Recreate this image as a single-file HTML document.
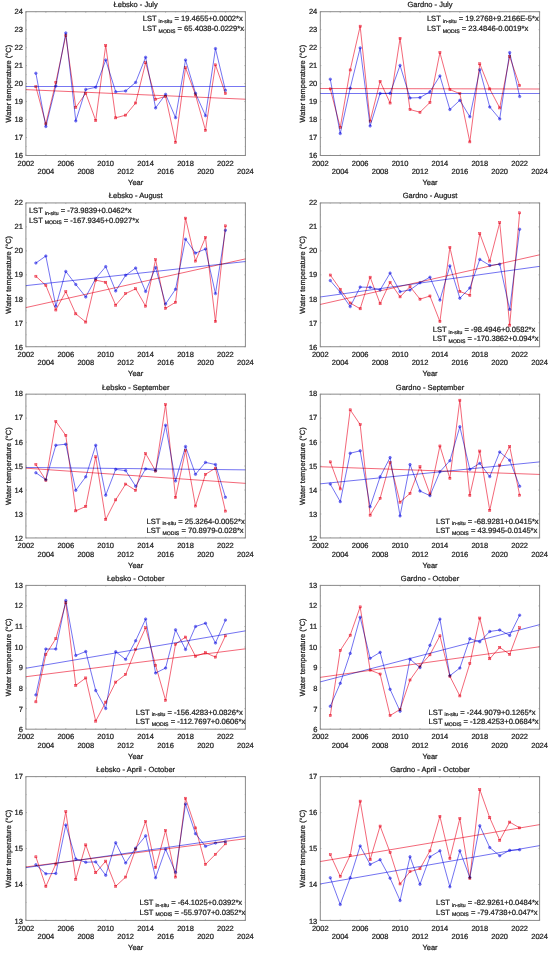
<!DOCTYPE html>
<html lang="en">
<head>
<meta charset="utf-8">
<title>Water temperature trends - Łebsko and Gardno</title>
<style>
html,body{margin:0;padding:0;background:#fff;}
body{width:550px;height:953px;overflow:hidden;font-family:"Liberation Sans",sans-serif;}
svg{display:block;}
svg text{stroke:#222;stroke-width:0.24px;text-rendering:geometricPrecision;}
</style>
</head>
<body>
<svg width="550" height="953" viewBox="0 0 550 953" font-family="'Liberation Sans', sans-serif" font-size="7.5" fill="#222">
<rect width="550" height="953" fill="#fff"/>
<g>
<text x="135.7" y="7.1" text-anchor="middle">Łebsko - July</text>
<rect x="25.90" y="11.70" width="219.50" height="143.80" fill="none" stroke="#8a8a8a" stroke-width="1.0"/>
<path d="M25.90 155.50v-1.1M25.90 11.70v1.1M45.85 155.50v-1.1M45.85 11.70v1.1M65.81 155.50v-1.1M65.81 11.70v1.1M85.76 155.50v-1.1M85.76 11.70v1.1M105.72 155.50v-1.1M105.72 11.70v1.1M125.67 155.50v-1.1M125.67 11.70v1.1M145.63 155.50v-1.1M145.63 11.70v1.1M165.58 155.50v-1.1M165.58 11.70v1.1M185.54 155.50v-1.1M185.54 11.70v1.1M205.49 155.50v-1.1M205.49 11.70v1.1M225.45 155.50v-1.1M225.45 11.70v1.1M245.40 155.50v-1.1M245.40 11.70v1.1M35.88 155.50v-0.6M35.88 11.70v0.6M55.83 155.50v-0.6M55.83 11.70v0.6M75.79 155.50v-0.6M75.79 11.70v0.6M95.74 155.50v-0.6M95.74 11.70v0.6M115.70 155.50v-0.6M115.70 11.70v0.6M135.65 155.50v-0.6M135.65 11.70v0.6M155.60 155.50v-0.6M155.60 11.70v0.6M175.56 155.50v-0.6M175.56 11.70v0.6M195.51 155.50v-0.6M195.51 11.70v0.6M215.47 155.50v-0.6M215.47 11.70v0.6M235.42 155.50v-0.6M235.42 11.70v0.6M25.90 155.50h1.1M245.40 155.50h-1.1M25.90 137.53h1.1M245.40 137.53h-1.1M25.90 119.55h1.1M245.40 119.55h-1.1M25.90 101.58h1.1M245.40 101.58h-1.1M25.90 83.60h1.1M245.40 83.60h-1.1M25.90 65.62h1.1M245.40 65.62h-1.1M25.90 47.65h1.1M245.40 47.65h-1.1M25.90 29.68h1.1M245.40 29.68h-1.1M25.90 11.70h1.1M245.40 11.70h-1.1M25.90 146.51h0.6M245.40 146.51h-0.6M25.90 128.54h0.6M245.40 128.54h-0.6M25.90 110.56h0.6M245.40 110.56h-0.6M25.90 92.59h0.6M245.40 92.59h-0.6M25.90 74.61h0.6M245.40 74.61h-0.6M25.90 56.64h0.6M245.40 56.64h-0.6M25.90 38.66h0.6M245.40 38.66h-0.6M25.90 20.69h0.6M245.40 20.69h-0.6" stroke="#8a8a8a" stroke-width="0.6" fill="none"/>
<text x="22.9" y="158.4" text-anchor="end">16</text>
<text x="22.9" y="140.4" text-anchor="end">17</text>
<text x="22.9" y="122.3" text-anchor="end">18</text>
<text x="22.9" y="104.2" text-anchor="end">19</text>
<text x="22.9" y="86.2" text-anchor="end">20</text>
<text x="22.9" y="68.1" text-anchor="end">21</text>
<text x="22.9" y="50.0" text-anchor="end">22</text>
<text x="22.9" y="31.9" text-anchor="end">23</text>
<text x="22.9" y="13.8" text-anchor="end">24</text>
<text x="25.9" y="165.6" text-anchor="middle">2002</text>
<text x="45.9" y="174.2" text-anchor="middle">2004</text>
<text x="65.8" y="165.6" text-anchor="middle">2006</text>
<text x="85.8" y="174.2" text-anchor="middle">2008</text>
<text x="105.7" y="165.6" text-anchor="middle">2010</text>
<text x="125.7" y="174.2" text-anchor="middle">2012</text>
<text x="145.6" y="165.6" text-anchor="middle">2014</text>
<text x="165.6" y="174.2" text-anchor="middle">2016</text>
<text x="185.5" y="165.6" text-anchor="middle">2018</text>
<text x="205.5" y="174.2" text-anchor="middle">2020</text>
<text x="225.4" y="165.6" text-anchor="middle">2022</text>
<text x="245.4" y="174.2" text-anchor="middle">2024</text>
<text x="135.7" y="185.2" text-anchor="middle">Year</text>
<text transform="translate(10.5 83.6) rotate(-90)" text-anchor="middle">Water temperature (°C)</text>
<line x1="25.90" y1="89.65" x2="245.40" y2="99.23" stroke="#ee2c44" stroke-width="0.72" style="mix-blend-mode:multiply"/>
<line x1="25.90" y1="86.48" x2="245.40" y2="86.48" stroke="#3c3cec" stroke-width="0.72" style="mix-blend-mode:multiply"/>
<polyline points="35.88,86.75 45.85,123.81 55.83,82.42 65.81,35.60 75.79,107.36 85.76,93.26 95.74,120.55 105.72,45.36 115.70,117.84 125.67,115.13 135.65,103.02 145.63,62.71 155.60,99.23 165.58,96.51 175.56,142.24 185.54,67.77 195.51,94.89 205.49,130.31 215.47,64.88 225.45,93.62" fill="none" stroke="#ee2c44" stroke-width="0.72" stroke-linejoin="round" style="mix-blend-mode:multiply"/>
<g fill="#f58a96" stroke="#ee2c44" stroke-width="0.5" style="mix-blend-mode:multiply"><rect x="34.83" y="85.70" width="2.1" height="2.1"/><rect x="44.80" y="122.76" width="2.1" height="2.1"/><rect x="54.78" y="81.37" width="2.1" height="2.1"/><rect x="64.76" y="34.55" width="2.1" height="2.1"/><rect x="74.74" y="106.31" width="2.1" height="2.1"/><rect x="84.71" y="92.21" width="2.1" height="2.1"/><rect x="94.69" y="119.50" width="2.1" height="2.1"/><rect x="104.67" y="44.31" width="2.1" height="2.1"/><rect x="114.65" y="116.79" width="2.1" height="2.1"/><rect x="124.62" y="114.08" width="2.1" height="2.1"/><rect x="134.60" y="101.97" width="2.1" height="2.1"/><rect x="144.58" y="61.66" width="2.1" height="2.1"/><rect x="154.55" y="98.18" width="2.1" height="2.1"/><rect x="164.53" y="95.46" width="2.1" height="2.1"/><rect x="174.51" y="141.19" width="2.1" height="2.1"/><rect x="184.49" y="66.72" width="2.1" height="2.1"/><rect x="194.46" y="93.84" width="2.1" height="2.1"/><rect x="204.44" y="129.26" width="2.1" height="2.1"/><rect x="214.42" y="63.83" width="2.1" height="2.1"/><rect x="224.40" y="92.57" width="2.1" height="2.1"/></g>
<polyline points="35.88,73.20 45.85,126.52 55.83,86.03 65.81,32.89 75.79,120.92 85.76,89.46 95.74,87.30 105.72,60.00 115.70,91.81 125.67,90.91 135.65,82.42 145.63,57.29 155.60,107.90 165.58,94.35 175.56,117.66 185.54,60.00 195.51,93.26 205.49,115.67 215.47,48.62 225.45,90.37" fill="none" stroke="#3c3cec" stroke-width="0.72" stroke-linejoin="round" style="mix-blend-mode:multiply"/>
<g fill="#8a8af0" stroke="#3c3cec" stroke-width="0.5" style="mix-blend-mode:multiply"><circle cx="35.88" cy="73.20" r="1.25"/><circle cx="45.85" cy="126.52" r="1.25"/><circle cx="55.83" cy="86.03" r="1.25"/><circle cx="65.81" cy="32.89" r="1.25"/><circle cx="75.79" cy="120.92" r="1.25"/><circle cx="85.76" cy="89.46" r="1.25"/><circle cx="95.74" cy="87.30" r="1.25"/><circle cx="105.72" cy="60.00" r="1.25"/><circle cx="115.70" cy="91.81" r="1.25"/><circle cx="125.67" cy="90.91" r="1.25"/><circle cx="135.65" cy="82.42" r="1.25"/><circle cx="145.63" cy="57.29" r="1.25"/><circle cx="155.60" cy="107.90" r="1.25"/><circle cx="165.58" cy="94.35" r="1.25"/><circle cx="175.56" cy="117.66" r="1.25"/><circle cx="185.54" cy="60.00" r="1.25"/><circle cx="195.51" cy="93.26" r="1.25"/><circle cx="205.49" cy="115.67" r="1.25"/><circle cx="215.47" cy="48.62" r="1.25"/><circle cx="225.45" cy="90.37" r="1.25"/></g>
<text x="142.7" y="21.4" font-size="7.6">LST <tspan font-size="5.15" dy="1.6">in-situ</tspan><tspan dy="-1.6"> = 19.4655+0.0002*x</tspan></text>
<text x="142.7" y="30.9" font-size="7.6">LST <tspan font-size="5.15" dy="1.6">MODIS</tspan><tspan dy="-1.6"> = 65.4038-0.0229*x</tspan></text>
</g>
<g>
<text x="430.0" y="7.1" text-anchor="middle">Gardno - July</text>
<rect x="320.30" y="11.70" width="219.30" height="143.80" fill="none" stroke="#8a8a8a" stroke-width="1.0"/>
<path d="M320.30 155.50v-1.1M320.30 11.70v1.1M340.24 155.50v-1.1M340.24 11.70v1.1M360.17 155.50v-1.1M360.17 11.70v1.1M380.11 155.50v-1.1M380.11 11.70v1.1M400.05 155.50v-1.1M400.05 11.70v1.1M419.98 155.50v-1.1M419.98 11.70v1.1M439.92 155.50v-1.1M439.92 11.70v1.1M459.85 155.50v-1.1M459.85 11.70v1.1M479.79 155.50v-1.1M479.79 11.70v1.1M499.73 155.50v-1.1M499.73 11.70v1.1M519.66 155.50v-1.1M519.66 11.70v1.1M539.60 155.50v-1.1M539.60 11.70v1.1M330.27 155.50v-0.6M330.27 11.70v0.6M350.20 155.50v-0.6M350.20 11.70v0.6M370.14 155.50v-0.6M370.14 11.70v0.6M390.08 155.50v-0.6M390.08 11.70v0.6M410.01 155.50v-0.6M410.01 11.70v0.6M429.95 155.50v-0.6M429.95 11.70v0.6M449.89 155.50v-0.6M449.89 11.70v0.6M469.82 155.50v-0.6M469.82 11.70v0.6M489.76 155.50v-0.6M489.76 11.70v0.6M509.70 155.50v-0.6M509.70 11.70v0.6M529.63 155.50v-0.6M529.63 11.70v0.6M320.30 155.50h1.1M539.60 155.50h-1.1M320.30 137.53h1.1M539.60 137.53h-1.1M320.30 119.55h1.1M539.60 119.55h-1.1M320.30 101.58h1.1M539.60 101.58h-1.1M320.30 83.60h1.1M539.60 83.60h-1.1M320.30 65.62h1.1M539.60 65.62h-1.1M320.30 47.65h1.1M539.60 47.65h-1.1M320.30 29.68h1.1M539.60 29.68h-1.1M320.30 11.70h1.1M539.60 11.70h-1.1M320.30 146.51h0.6M539.60 146.51h-0.6M320.30 128.54h0.6M539.60 128.54h-0.6M320.30 110.56h0.6M539.60 110.56h-0.6M320.30 92.59h0.6M539.60 92.59h-0.6M320.30 74.61h0.6M539.60 74.61h-0.6M320.30 56.64h0.6M539.60 56.64h-0.6M320.30 38.66h0.6M539.60 38.66h-0.6M320.30 20.69h0.6M539.60 20.69h-0.6" stroke="#8a8a8a" stroke-width="0.6" fill="none"/>
<text x="317.3" y="158.4" text-anchor="end">16</text>
<text x="317.3" y="140.4" text-anchor="end">17</text>
<text x="317.3" y="122.3" text-anchor="end">18</text>
<text x="317.3" y="104.2" text-anchor="end">19</text>
<text x="317.3" y="86.2" text-anchor="end">20</text>
<text x="317.3" y="68.1" text-anchor="end">21</text>
<text x="317.3" y="50.0" text-anchor="end">22</text>
<text x="317.3" y="31.9" text-anchor="end">23</text>
<text x="317.3" y="13.8" text-anchor="end">24</text>
<text x="320.3" y="165.6" text-anchor="middle">2002</text>
<text x="340.2" y="174.2" text-anchor="middle">2004</text>
<text x="360.2" y="165.6" text-anchor="middle">2006</text>
<text x="380.1" y="174.2" text-anchor="middle">2008</text>
<text x="400.0" y="165.6" text-anchor="middle">2010</text>
<text x="420.0" y="174.2" text-anchor="middle">2012</text>
<text x="439.9" y="165.6" text-anchor="middle">2014</text>
<text x="459.9" y="174.2" text-anchor="middle">2016</text>
<text x="479.8" y="165.6" text-anchor="middle">2018</text>
<text x="499.7" y="174.2" text-anchor="middle">2020</text>
<text x="519.7" y="165.6" text-anchor="middle">2022</text>
<text x="539.6" y="174.2" text-anchor="middle">2024</text>
<text x="430.0" y="185.2" text-anchor="middle">Year</text>
<text transform="translate(304.9 83.6) rotate(-90)" text-anchor="middle">Water temperature (°C)</text>
<line x1="320.30" y1="88.47" x2="539.60" y2="89.01" stroke="#ee2c44" stroke-width="0.72" style="mix-blend-mode:multiply"/>
<line x1="320.30" y1="93.50" x2="539.60" y2="93.46" stroke="#3c3cec" stroke-width="0.72" style="mix-blend-mode:multiply"/>
<polyline points="330.27,88.92 340.24,127.42 350.20,69.94 360.17,26.20 370.14,121.10 380.11,81.33 390.08,103.02 400.05,38.31 410.01,109.53 419.98,112.24 429.95,102.48 439.92,52.59 449.89,89.65 459.85,93.62 469.82,141.88 479.79,63.80 489.76,88.92 499.73,107.90 509.70,56.57 519.66,85.67" fill="none" stroke="#ee2c44" stroke-width="0.72" stroke-linejoin="round" style="mix-blend-mode:multiply"/>
<g fill="#f58a96" stroke="#ee2c44" stroke-width="0.5" style="mix-blend-mode:multiply"><rect x="329.22" y="87.87" width="2.1" height="2.1"/><rect x="339.19" y="126.37" width="2.1" height="2.1"/><rect x="349.15" y="68.89" width="2.1" height="2.1"/><rect x="359.12" y="25.15" width="2.1" height="2.1"/><rect x="369.09" y="120.05" width="2.1" height="2.1"/><rect x="379.06" y="80.28" width="2.1" height="2.1"/><rect x="389.03" y="101.97" width="2.1" height="2.1"/><rect x="399.00" y="37.26" width="2.1" height="2.1"/><rect x="408.96" y="108.48" width="2.1" height="2.1"/><rect x="418.93" y="111.19" width="2.1" height="2.1"/><rect x="428.90" y="101.43" width="2.1" height="2.1"/><rect x="438.87" y="51.54" width="2.1" height="2.1"/><rect x="448.84" y="88.60" width="2.1" height="2.1"/><rect x="458.80" y="92.57" width="2.1" height="2.1"/><rect x="468.77" y="140.83" width="2.1" height="2.1"/><rect x="478.74" y="62.75" width="2.1" height="2.1"/><rect x="488.71" y="87.87" width="2.1" height="2.1"/><rect x="498.68" y="106.85" width="2.1" height="2.1"/><rect x="508.65" y="55.52" width="2.1" height="2.1"/><rect x="518.61" y="84.62" width="2.1" height="2.1"/></g>
<polyline points="330.27,79.16 340.24,133.57 350.20,88.20 360.17,47.89 370.14,125.98 380.11,93.44 390.08,93.26 400.05,65.42 410.01,97.96 419.98,97.60 429.95,91.81 439.92,75.91 449.89,109.53 459.85,100.31 469.82,116.76 479.79,69.76 489.76,107.00 499.73,118.93 509.70,52.59 519.66,96.51" fill="none" stroke="#3c3cec" stroke-width="0.72" stroke-linejoin="round" style="mix-blend-mode:multiply"/>
<g fill="#8a8af0" stroke="#3c3cec" stroke-width="0.5" style="mix-blend-mode:multiply"><circle cx="330.27" cy="79.16" r="1.25"/><circle cx="340.24" cy="133.57" r="1.25"/><circle cx="350.20" cy="88.20" r="1.25"/><circle cx="360.17" cy="47.89" r="1.25"/><circle cx="370.14" cy="125.98" r="1.25"/><circle cx="380.11" cy="93.44" r="1.25"/><circle cx="390.08" cy="93.26" r="1.25"/><circle cx="400.05" cy="65.42" r="1.25"/><circle cx="410.01" cy="97.96" r="1.25"/><circle cx="419.98" cy="97.60" r="1.25"/><circle cx="429.95" cy="91.81" r="1.25"/><circle cx="439.92" cy="75.91" r="1.25"/><circle cx="449.89" cy="109.53" r="1.25"/><circle cx="459.85" cy="100.31" r="1.25"/><circle cx="469.82" cy="116.76" r="1.25"/><circle cx="479.79" cy="69.76" r="1.25"/><circle cx="489.76" cy="107.00" r="1.25"/><circle cx="499.73" cy="118.93" r="1.25"/><circle cx="509.70" cy="52.59" r="1.25"/><circle cx="519.66" cy="96.51" r="1.25"/></g>
<text x="426.9" y="21.4" font-size="7.6">LST <tspan font-size="5.15" dy="1.6">in-situ</tspan><tspan dy="-1.6"> = 19.2768+9.2166E-5*x</tspan></text>
<text x="426.9" y="30.9" font-size="7.6">LST <tspan font-size="5.15" dy="1.6">MODIS</tspan><tspan dy="-1.6"> = 23.4846-0.0019*x</tspan></text>
</g>
<g>
<text x="135.7" y="198.3" text-anchor="middle">Łebsko - August</text>
<rect x="25.90" y="202.93" width="219.50" height="143.80" fill="none" stroke="#8a8a8a" stroke-width="1.0"/>
<path d="M25.90 346.73v-1.1M25.90 202.93v1.1M45.85 346.73v-1.1M45.85 202.93v1.1M65.81 346.73v-1.1M65.81 202.93v1.1M85.76 346.73v-1.1M85.76 202.93v1.1M105.72 346.73v-1.1M105.72 202.93v1.1M125.67 346.73v-1.1M125.67 202.93v1.1M145.63 346.73v-1.1M145.63 202.93v1.1M165.58 346.73v-1.1M165.58 202.93v1.1M185.54 346.73v-1.1M185.54 202.93v1.1M205.49 346.73v-1.1M205.49 202.93v1.1M225.45 346.73v-1.1M225.45 202.93v1.1M245.40 346.73v-1.1M245.40 202.93v1.1M35.88 346.73v-0.6M35.88 202.93v0.6M55.83 346.73v-0.6M55.83 202.93v0.6M75.79 346.73v-0.6M75.79 202.93v0.6M95.74 346.73v-0.6M95.74 202.93v0.6M115.70 346.73v-0.6M115.70 202.93v0.6M135.65 346.73v-0.6M135.65 202.93v0.6M155.60 346.73v-0.6M155.60 202.93v0.6M175.56 346.73v-0.6M175.56 202.93v0.6M195.51 346.73v-0.6M195.51 202.93v0.6M215.47 346.73v-0.6M215.47 202.93v0.6M235.42 346.73v-0.6M235.42 202.93v0.6M25.90 346.73h1.1M245.40 346.73h-1.1M25.90 322.76h1.1M245.40 322.76h-1.1M25.90 298.80h1.1M245.40 298.80h-1.1M25.90 274.83h1.1M245.40 274.83h-1.1M25.90 250.86h1.1M245.40 250.86h-1.1M25.90 226.90h1.1M245.40 226.90h-1.1M25.90 202.93h1.1M245.40 202.93h-1.1M25.90 334.75h0.6M245.40 334.75h-0.6M25.90 310.78h0.6M245.40 310.78h-0.6M25.90 286.81h0.6M245.40 286.81h-0.6M25.90 262.85h0.6M245.40 262.85h-0.6M25.90 238.88h0.6M245.40 238.88h-0.6M25.90 214.91h0.6M245.40 214.91h-0.6" stroke="#8a8a8a" stroke-width="0.6" fill="none"/>
<text x="22.9" y="349.8" text-anchor="end">16</text>
<text x="22.9" y="325.6" text-anchor="end">17</text>
<text x="22.9" y="301.5" text-anchor="end">18</text>
<text x="22.9" y="277.4" text-anchor="end">19</text>
<text x="22.9" y="253.3" text-anchor="end">20</text>
<text x="22.9" y="229.2" text-anchor="end">21</text>
<text x="22.9" y="205.2" text-anchor="end">22</text>
<text x="25.9" y="356.8" text-anchor="middle">2002</text>
<text x="45.9" y="365.4" text-anchor="middle">2004</text>
<text x="65.8" y="356.8" text-anchor="middle">2006</text>
<text x="85.8" y="365.4" text-anchor="middle">2008</text>
<text x="105.7" y="356.8" text-anchor="middle">2010</text>
<text x="125.7" y="365.4" text-anchor="middle">2012</text>
<text x="145.6" y="356.8" text-anchor="middle">2014</text>
<text x="165.6" y="365.4" text-anchor="middle">2016</text>
<text x="185.5" y="356.8" text-anchor="middle">2018</text>
<text x="205.5" y="365.4" text-anchor="middle">2020</text>
<text x="225.4" y="356.8" text-anchor="middle">2022</text>
<text x="245.4" y="365.4" text-anchor="middle">2024</text>
<text x="135.7" y="376.4" text-anchor="middle">Year</text>
<text transform="translate(10.5 274.8) rotate(-90)" text-anchor="middle">Water temperature (°C)</text>
<line x1="25.90" y1="307.58" x2="245.40" y2="258.89" stroke="#ee2c44" stroke-width="0.72" style="mix-blend-mode:multiply"/>
<line x1="25.90" y1="285.64" x2="245.40" y2="261.54" stroke="#3c3cec" stroke-width="0.72" style="mix-blend-mode:multiply"/>
<polyline points="35.88,276.25 45.85,285.40 55.83,309.99 65.81,291.67 75.79,313.84 85.76,322.04 95.74,280.10 105.72,282.27 115.70,305.17 125.67,293.60 135.65,288.78 145.63,306.13 155.60,259.62 165.58,308.30 175.56,302.27 185.54,218.16 195.51,261.06 205.49,237.44 215.47,321.55 225.45,225.88" fill="none" stroke="#ee2c44" stroke-width="0.72" stroke-linejoin="round" style="mix-blend-mode:multiply"/>
<g fill="#f58a96" stroke="#ee2c44" stroke-width="0.5" style="mix-blend-mode:multiply"><rect x="34.83" y="275.20" width="2.1" height="2.1"/><rect x="44.80" y="284.35" width="2.1" height="2.1"/><rect x="54.78" y="308.94" width="2.1" height="2.1"/><rect x="64.76" y="290.62" width="2.1" height="2.1"/><rect x="74.74" y="312.79" width="2.1" height="2.1"/><rect x="84.71" y="320.99" width="2.1" height="2.1"/><rect x="94.69" y="279.05" width="2.1" height="2.1"/><rect x="104.67" y="281.22" width="2.1" height="2.1"/><rect x="114.65" y="304.12" width="2.1" height="2.1"/><rect x="124.62" y="292.55" width="2.1" height="2.1"/><rect x="134.60" y="287.73" width="2.1" height="2.1"/><rect x="144.58" y="305.08" width="2.1" height="2.1"/><rect x="154.55" y="258.57" width="2.1" height="2.1"/><rect x="164.53" y="307.25" width="2.1" height="2.1"/><rect x="174.51" y="301.22" width="2.1" height="2.1"/><rect x="184.49" y="217.11" width="2.1" height="2.1"/><rect x="194.46" y="260.01" width="2.1" height="2.1"/><rect x="204.44" y="236.39" width="2.1" height="2.1"/><rect x="214.42" y="320.50" width="2.1" height="2.1"/><rect x="224.40" y="224.83" width="2.1" height="2.1"/></g>
<polyline points="35.88,262.99 45.85,256.00 55.83,306.13 65.81,271.43 75.79,284.44 85.76,296.97 95.74,278.41 105.72,266.61 115.70,290.95 125.67,275.28 135.65,268.05 145.63,291.43 155.60,267.57 165.58,303.96 175.56,289.26 185.54,239.13 195.51,253.11 205.49,249.01 215.47,293.60 225.45,230.21" fill="none" stroke="#3c3cec" stroke-width="0.72" stroke-linejoin="round" style="mix-blend-mode:multiply"/>
<g fill="#8a8af0" stroke="#3c3cec" stroke-width="0.5" style="mix-blend-mode:multiply"><circle cx="35.88" cy="262.99" r="1.25"/><circle cx="45.85" cy="256.00" r="1.25"/><circle cx="55.83" cy="306.13" r="1.25"/><circle cx="65.81" cy="271.43" r="1.25"/><circle cx="75.79" cy="284.44" r="1.25"/><circle cx="85.76" cy="296.97" r="1.25"/><circle cx="95.74" cy="278.41" r="1.25"/><circle cx="105.72" cy="266.61" r="1.25"/><circle cx="115.70" cy="290.95" r="1.25"/><circle cx="125.67" cy="275.28" r="1.25"/><circle cx="135.65" cy="268.05" r="1.25"/><circle cx="145.63" cy="291.43" r="1.25"/><circle cx="155.60" cy="267.57" r="1.25"/><circle cx="165.58" cy="303.96" r="1.25"/><circle cx="175.56" cy="289.26" r="1.25"/><circle cx="185.54" cy="239.13" r="1.25"/><circle cx="195.51" cy="253.11" r="1.25"/><circle cx="205.49" cy="249.01" r="1.25"/><circle cx="215.47" cy="293.60" r="1.25"/><circle cx="225.45" cy="230.21" r="1.25"/></g>
<text x="28.9" y="213.0" font-size="7.6">LST <tspan font-size="5.15" dy="1.6">in-situ</tspan><tspan dy="-1.6"> = -73.9839+0.0462*x</tspan></text>
<text x="28.9" y="222.5" font-size="7.6">LST <tspan font-size="5.15" dy="1.6">MODIS</tspan><tspan dy="-1.6"> = -167.9345+0.0927*x</tspan></text>
</g>
<g>
<text x="430.0" y="198.3" text-anchor="middle">Gardno - August</text>
<rect x="320.30" y="202.93" width="219.30" height="143.80" fill="none" stroke="#8a8a8a" stroke-width="1.0"/>
<path d="M320.30 346.73v-1.1M320.30 202.93v1.1M340.24 346.73v-1.1M340.24 202.93v1.1M360.17 346.73v-1.1M360.17 202.93v1.1M380.11 346.73v-1.1M380.11 202.93v1.1M400.05 346.73v-1.1M400.05 202.93v1.1M419.98 346.73v-1.1M419.98 202.93v1.1M439.92 346.73v-1.1M439.92 202.93v1.1M459.85 346.73v-1.1M459.85 202.93v1.1M479.79 346.73v-1.1M479.79 202.93v1.1M499.73 346.73v-1.1M499.73 202.93v1.1M519.66 346.73v-1.1M519.66 202.93v1.1M539.60 346.73v-1.1M539.60 202.93v1.1M330.27 346.73v-0.6M330.27 202.93v0.6M350.20 346.73v-0.6M350.20 202.93v0.6M370.14 346.73v-0.6M370.14 202.93v0.6M390.08 346.73v-0.6M390.08 202.93v0.6M410.01 346.73v-0.6M410.01 202.93v0.6M429.95 346.73v-0.6M429.95 202.93v0.6M449.89 346.73v-0.6M449.89 202.93v0.6M469.82 346.73v-0.6M469.82 202.93v0.6M489.76 346.73v-0.6M489.76 202.93v0.6M509.70 346.73v-0.6M509.70 202.93v0.6M529.63 346.73v-0.6M529.63 202.93v0.6M320.30 346.73h1.1M539.60 346.73h-1.1M320.30 322.76h1.1M539.60 322.76h-1.1M320.30 298.80h1.1M539.60 298.80h-1.1M320.30 274.83h1.1M539.60 274.83h-1.1M320.30 250.86h1.1M539.60 250.86h-1.1M320.30 226.90h1.1M539.60 226.90h-1.1M320.30 202.93h1.1M539.60 202.93h-1.1M320.30 334.75h0.6M539.60 334.75h-0.6M320.30 310.78h0.6M539.60 310.78h-0.6M320.30 286.81h0.6M539.60 286.81h-0.6M320.30 262.85h0.6M539.60 262.85h-0.6M320.30 238.88h0.6M539.60 238.88h-0.6M320.30 214.91h0.6M539.60 214.91h-0.6" stroke="#8a8a8a" stroke-width="0.6" fill="none"/>
<text x="317.3" y="349.8" text-anchor="end">16</text>
<text x="317.3" y="325.6" text-anchor="end">17</text>
<text x="317.3" y="301.5" text-anchor="end">18</text>
<text x="317.3" y="277.4" text-anchor="end">19</text>
<text x="317.3" y="253.3" text-anchor="end">20</text>
<text x="317.3" y="229.2" text-anchor="end">21</text>
<text x="317.3" y="205.2" text-anchor="end">22</text>
<text x="320.3" y="356.8" text-anchor="middle">2002</text>
<text x="340.2" y="365.4" text-anchor="middle">2004</text>
<text x="360.2" y="356.8" text-anchor="middle">2006</text>
<text x="380.1" y="365.4" text-anchor="middle">2008</text>
<text x="400.0" y="356.8" text-anchor="middle">2010</text>
<text x="420.0" y="365.4" text-anchor="middle">2012</text>
<text x="439.9" y="356.8" text-anchor="middle">2014</text>
<text x="459.9" y="365.4" text-anchor="middle">2016</text>
<text x="479.8" y="356.8" text-anchor="middle">2018</text>
<text x="499.7" y="365.4" text-anchor="middle">2020</text>
<text x="519.7" y="356.8" text-anchor="middle">2022</text>
<text x="539.6" y="365.4" text-anchor="middle">2024</text>
<text x="430.0" y="376.4" text-anchor="middle">Year</text>
<text transform="translate(304.9 274.8) rotate(-90)" text-anchor="middle">Water temperature (°C)</text>
<line x1="320.30" y1="304.44" x2="539.60" y2="254.80" stroke="#ee2c44" stroke-width="0.72" style="mix-blend-mode:multiply"/>
<line x1="320.30" y1="296.97" x2="539.60" y2="266.36" stroke="#3c3cec" stroke-width="0.72" style="mix-blend-mode:multiply"/>
<polyline points="330.27,275.04 340.24,289.26 350.20,303.00 360.17,308.78 370.14,277.21 380.11,303.72 390.08,282.27 400.05,296.85 410.01,286.61 419.98,299.14 429.95,296.01 439.92,321.55 449.89,247.33 459.85,291.43 469.82,295.29 479.79,233.59 489.76,261.06 499.73,222.62 509.70,325.17 519.66,212.86" fill="none" stroke="#ee2c44" stroke-width="0.72" stroke-linejoin="round" style="mix-blend-mode:multiply"/>
<g fill="#f58a96" stroke="#ee2c44" stroke-width="0.5" style="mix-blend-mode:multiply"><rect x="329.22" y="273.99" width="2.1" height="2.1"/><rect x="339.19" y="288.21" width="2.1" height="2.1"/><rect x="349.15" y="301.95" width="2.1" height="2.1"/><rect x="359.12" y="307.73" width="2.1" height="2.1"/><rect x="369.09" y="276.16" width="2.1" height="2.1"/><rect x="379.06" y="302.67" width="2.1" height="2.1"/><rect x="389.03" y="281.22" width="2.1" height="2.1"/><rect x="399.00" y="295.80" width="2.1" height="2.1"/><rect x="408.96" y="285.56" width="2.1" height="2.1"/><rect x="418.93" y="298.09" width="2.1" height="2.1"/><rect x="428.90" y="294.96" width="2.1" height="2.1"/><rect x="438.87" y="320.50" width="2.1" height="2.1"/><rect x="448.84" y="246.28" width="2.1" height="2.1"/><rect x="458.80" y="290.38" width="2.1" height="2.1"/><rect x="468.77" y="294.24" width="2.1" height="2.1"/><rect x="478.74" y="232.54" width="2.1" height="2.1"/><rect x="488.71" y="260.01" width="2.1" height="2.1"/><rect x="498.68" y="221.57" width="2.1" height="2.1"/><rect x="508.65" y="324.12" width="2.1" height="2.1"/><rect x="518.61" y="211.81" width="2.1" height="2.1"/></g>
<polyline points="330.27,280.58 340.24,292.15 350.20,306.61 360.17,287.09 370.14,287.33 380.11,289.98 390.08,273.11 400.05,291.67 410.01,289.98 419.98,282.75 429.95,277.21 439.92,300.11 449.89,265.88 459.85,298.18 469.82,288.06 479.79,259.38 489.76,265.40 499.73,264.20 509.70,309.50 519.66,229.25" fill="none" stroke="#3c3cec" stroke-width="0.72" stroke-linejoin="round" style="mix-blend-mode:multiply"/>
<g fill="#8a8af0" stroke="#3c3cec" stroke-width="0.5" style="mix-blend-mode:multiply"><circle cx="330.27" cy="280.58" r="1.25"/><circle cx="340.24" cy="292.15" r="1.25"/><circle cx="350.20" cy="306.61" r="1.25"/><circle cx="360.17" cy="287.09" r="1.25"/><circle cx="370.14" cy="287.33" r="1.25"/><circle cx="380.11" cy="289.98" r="1.25"/><circle cx="390.08" cy="273.11" r="1.25"/><circle cx="400.05" cy="291.67" r="1.25"/><circle cx="410.01" cy="289.98" r="1.25"/><circle cx="419.98" cy="282.75" r="1.25"/><circle cx="429.95" cy="277.21" r="1.25"/><circle cx="439.92" cy="300.11" r="1.25"/><circle cx="449.89" cy="265.88" r="1.25"/><circle cx="459.85" cy="298.18" r="1.25"/><circle cx="469.82" cy="288.06" r="1.25"/><circle cx="479.79" cy="259.38" r="1.25"/><circle cx="489.76" cy="265.40" r="1.25"/><circle cx="499.73" cy="264.20" r="1.25"/><circle cx="509.70" cy="309.50" r="1.25"/><circle cx="519.66" cy="229.25" r="1.25"/></g>
<text x="432.7" y="331.9" font-size="7.6">LST <tspan font-size="5.15" dy="1.6">in-situ</tspan><tspan dy="-1.6"> = -98.4946+0.0582*x</tspan></text>
<text x="432.7" y="341.4" font-size="7.6">LST <tspan font-size="5.15" dy="1.6">MODIS</tspan><tspan dy="-1.6"> = -170.3862+0.094*x</tspan></text>
</g>
<g>
<text x="135.7" y="389.6" text-anchor="middle">Łebsko - September</text>
<rect x="25.90" y="394.16" width="219.50" height="143.80" fill="none" stroke="#8a8a8a" stroke-width="1.0"/>
<path d="M25.90 537.96v-1.1M25.90 394.16v1.1M45.85 537.96v-1.1M45.85 394.16v1.1M65.81 537.96v-1.1M65.81 394.16v1.1M85.76 537.96v-1.1M85.76 394.16v1.1M105.72 537.96v-1.1M105.72 394.16v1.1M125.67 537.96v-1.1M125.67 394.16v1.1M145.63 537.96v-1.1M145.63 394.16v1.1M165.58 537.96v-1.1M165.58 394.16v1.1M185.54 537.96v-1.1M185.54 394.16v1.1M205.49 537.96v-1.1M205.49 394.16v1.1M225.45 537.96v-1.1M225.45 394.16v1.1M245.40 537.96v-1.1M245.40 394.16v1.1M35.88 537.96v-0.6M35.88 394.16v0.6M55.83 537.96v-0.6M55.83 394.16v0.6M75.79 537.96v-0.6M75.79 394.16v0.6M95.74 537.96v-0.6M95.74 394.16v0.6M115.70 537.96v-0.6M115.70 394.16v0.6M135.65 537.96v-0.6M135.65 394.16v0.6M155.60 537.96v-0.6M155.60 394.16v0.6M175.56 537.96v-0.6M175.56 394.16v0.6M195.51 537.96v-0.6M195.51 394.16v0.6M215.47 537.96v-0.6M215.47 394.16v0.6M235.42 537.96v-0.6M235.42 394.16v0.6M25.90 537.96h1.1M245.40 537.96h-1.1M25.90 513.99h1.1M245.40 513.99h-1.1M25.90 490.03h1.1M245.40 490.03h-1.1M25.90 466.06h1.1M245.40 466.06h-1.1M25.90 442.09h1.1M245.40 442.09h-1.1M25.90 418.13h1.1M245.40 418.13h-1.1M25.90 394.16h1.1M245.40 394.16h-1.1M25.90 525.98h0.6M245.40 525.98h-0.6M25.90 502.01h0.6M245.40 502.01h-0.6M25.90 478.04h0.6M245.40 478.04h-0.6M25.90 454.08h0.6M245.40 454.08h-0.6M25.90 430.11h0.6M245.40 430.11h-0.6M25.90 406.14h0.6M245.40 406.14h-0.6" stroke="#8a8a8a" stroke-width="0.6" fill="none"/>
<text x="22.9" y="540.9" text-anchor="end">12</text>
<text x="22.9" y="516.9" text-anchor="end">13</text>
<text x="22.9" y="492.7" text-anchor="end">14</text>
<text x="22.9" y="468.6" text-anchor="end">15</text>
<text x="22.9" y="444.5" text-anchor="end">16</text>
<text x="22.9" y="420.4" text-anchor="end">17</text>
<text x="22.9" y="396.3" text-anchor="end">18</text>
<text x="25.9" y="548.0" text-anchor="middle">2002</text>
<text x="45.9" y="556.6" text-anchor="middle">2004</text>
<text x="65.8" y="548.0" text-anchor="middle">2006</text>
<text x="85.8" y="556.6" text-anchor="middle">2008</text>
<text x="105.7" y="548.0" text-anchor="middle">2010</text>
<text x="125.7" y="556.6" text-anchor="middle">2012</text>
<text x="145.6" y="548.0" text-anchor="middle">2014</text>
<text x="165.6" y="556.6" text-anchor="middle">2016</text>
<text x="185.5" y="548.0" text-anchor="middle">2018</text>
<text x="205.5" y="556.6" text-anchor="middle">2020</text>
<text x="225.4" y="548.0" text-anchor="middle">2022</text>
<text x="245.4" y="556.6" text-anchor="middle">2024</text>
<text x="135.7" y="567.7" text-anchor="middle">Year</text>
<text transform="translate(10.5 466.1) rotate(-90)" text-anchor="middle">Water temperature (°C)</text>
<line x1="25.90" y1="468.17" x2="245.40" y2="483.35" stroke="#ee2c44" stroke-width="0.72" style="mix-blend-mode:multiply"/>
<line x1="25.90" y1="467.45" x2="245.40" y2="469.86" stroke="#3c3cec" stroke-width="0.72" style="mix-blend-mode:multiply"/>
<polyline points="35.88,464.55 45.85,480.22 55.83,421.41 65.81,435.39 75.79,510.83 85.76,506.49 95.74,456.84 105.72,519.50 115.70,499.86 125.67,484.07 135.65,490.34 145.63,453.59 155.60,471.06 165.58,404.54 175.56,497.57 185.54,450.33 195.51,506.01 205.49,474.31 215.47,468.17 225.45,511.07" fill="none" stroke="#ee2c44" stroke-width="0.72" stroke-linejoin="round" style="mix-blend-mode:multiply"/>
<g fill="#f58a96" stroke="#ee2c44" stroke-width="0.5" style="mix-blend-mode:multiply"><rect x="34.83" y="463.50" width="2.1" height="2.1"/><rect x="44.80" y="479.17" width="2.1" height="2.1"/><rect x="54.78" y="420.36" width="2.1" height="2.1"/><rect x="64.76" y="434.34" width="2.1" height="2.1"/><rect x="74.74" y="509.78" width="2.1" height="2.1"/><rect x="84.71" y="505.44" width="2.1" height="2.1"/><rect x="94.69" y="455.79" width="2.1" height="2.1"/><rect x="104.67" y="518.45" width="2.1" height="2.1"/><rect x="114.65" y="498.81" width="2.1" height="2.1"/><rect x="124.62" y="483.02" width="2.1" height="2.1"/><rect x="134.60" y="489.29" width="2.1" height="2.1"/><rect x="144.58" y="452.54" width="2.1" height="2.1"/><rect x="154.55" y="470.01" width="2.1" height="2.1"/><rect x="164.53" y="403.49" width="2.1" height="2.1"/><rect x="174.51" y="496.52" width="2.1" height="2.1"/><rect x="184.49" y="449.28" width="2.1" height="2.1"/><rect x="194.46" y="504.96" width="2.1" height="2.1"/><rect x="204.44" y="473.26" width="2.1" height="2.1"/><rect x="214.42" y="467.12" width="2.1" height="2.1"/><rect x="224.40" y="510.02" width="2.1" height="2.1"/></g>
<polyline points="35.88,472.75 45.85,479.74 55.83,445.27 65.81,444.19 75.79,490.34 85.76,476.84 95.74,445.27 105.72,495.16 115.70,469.37 125.67,470.58 135.65,486.24 145.63,468.89 155.60,470.58 165.58,425.27 175.56,480.94 185.54,446.48 195.51,474.31 205.49,462.38 215.47,464.55 225.45,497.33" fill="none" stroke="#3c3cec" stroke-width="0.72" stroke-linejoin="round" style="mix-blend-mode:multiply"/>
<g fill="#8a8af0" stroke="#3c3cec" stroke-width="0.5" style="mix-blend-mode:multiply"><circle cx="35.88" cy="472.75" r="1.25"/><circle cx="45.85" cy="479.74" r="1.25"/><circle cx="55.83" cy="445.27" r="1.25"/><circle cx="65.81" cy="444.19" r="1.25"/><circle cx="75.79" cy="490.34" r="1.25"/><circle cx="85.76" cy="476.84" r="1.25"/><circle cx="95.74" cy="445.27" r="1.25"/><circle cx="105.72" cy="495.16" r="1.25"/><circle cx="115.70" cy="469.37" r="1.25"/><circle cx="125.67" cy="470.58" r="1.25"/><circle cx="135.65" cy="486.24" r="1.25"/><circle cx="145.63" cy="468.89" r="1.25"/><circle cx="155.60" cy="470.58" r="1.25"/><circle cx="165.58" cy="425.27" r="1.25"/><circle cx="175.56" cy="480.94" r="1.25"/><circle cx="185.54" cy="446.48" r="1.25"/><circle cx="195.51" cy="474.31" r="1.25"/><circle cx="205.49" cy="462.38" r="1.25"/><circle cx="215.47" cy="464.55" r="1.25"/><circle cx="225.45" cy="497.33" r="1.25"/></g>
<text x="146.5" y="523.6" font-size="7.6">LST <tspan font-size="5.15" dy="1.6">in-situ</tspan><tspan dy="-1.6"> = 25.3264-0.0052*x</tspan></text>
<text x="146.5" y="533.1" font-size="7.6">LST <tspan font-size="5.15" dy="1.6">MODIS</tspan><tspan dy="-1.6"> = 70.8979-0.028*x</tspan></text>
</g>
<g>
<text x="430.0" y="389.6" text-anchor="middle">Gardno - September</text>
<rect x="320.30" y="394.16" width="219.30" height="143.80" fill="none" stroke="#8a8a8a" stroke-width="1.0"/>
<path d="M320.30 537.96v-1.1M320.30 394.16v1.1M340.24 537.96v-1.1M340.24 394.16v1.1M360.17 537.96v-1.1M360.17 394.16v1.1M380.11 537.96v-1.1M380.11 394.16v1.1M400.05 537.96v-1.1M400.05 394.16v1.1M419.98 537.96v-1.1M419.98 394.16v1.1M439.92 537.96v-1.1M439.92 394.16v1.1M459.85 537.96v-1.1M459.85 394.16v1.1M479.79 537.96v-1.1M479.79 394.16v1.1M499.73 537.96v-1.1M499.73 394.16v1.1M519.66 537.96v-1.1M519.66 394.16v1.1M539.60 537.96v-1.1M539.60 394.16v1.1M330.27 537.96v-0.6M330.27 394.16v0.6M350.20 537.96v-0.6M350.20 394.16v0.6M370.14 537.96v-0.6M370.14 394.16v0.6M390.08 537.96v-0.6M390.08 394.16v0.6M410.01 537.96v-0.6M410.01 394.16v0.6M429.95 537.96v-0.6M429.95 394.16v0.6M449.89 537.96v-0.6M449.89 394.16v0.6M469.82 537.96v-0.6M469.82 394.16v0.6M489.76 537.96v-0.6M489.76 394.16v0.6M509.70 537.96v-0.6M509.70 394.16v0.6M529.63 537.96v-0.6M529.63 394.16v0.6M320.30 537.96h1.1M539.60 537.96h-1.1M320.30 513.99h1.1M539.60 513.99h-1.1M320.30 490.03h1.1M539.60 490.03h-1.1M320.30 466.06h1.1M539.60 466.06h-1.1M320.30 442.09h1.1M539.60 442.09h-1.1M320.30 418.13h1.1M539.60 418.13h-1.1M320.30 394.16h1.1M539.60 394.16h-1.1M320.30 525.98h0.6M539.60 525.98h-0.6M320.30 502.01h0.6M539.60 502.01h-0.6M320.30 478.04h0.6M539.60 478.04h-0.6M320.30 454.08h0.6M539.60 454.08h-0.6M320.30 430.11h0.6M539.60 430.11h-0.6M320.30 406.14h0.6M539.60 406.14h-0.6" stroke="#8a8a8a" stroke-width="0.6" fill="none"/>
<text x="317.3" y="540.9" text-anchor="end">12</text>
<text x="317.3" y="516.9" text-anchor="end">13</text>
<text x="317.3" y="492.7" text-anchor="end">14</text>
<text x="317.3" y="468.6" text-anchor="end">15</text>
<text x="317.3" y="444.5" text-anchor="end">16</text>
<text x="317.3" y="420.4" text-anchor="end">17</text>
<text x="317.3" y="396.3" text-anchor="end">18</text>
<text x="320.3" y="548.0" text-anchor="middle">2002</text>
<text x="340.2" y="556.6" text-anchor="middle">2004</text>
<text x="360.2" y="548.0" text-anchor="middle">2006</text>
<text x="380.1" y="556.6" text-anchor="middle">2008</text>
<text x="400.0" y="548.0" text-anchor="middle">2010</text>
<text x="420.0" y="556.6" text-anchor="middle">2012</text>
<text x="439.9" y="548.0" text-anchor="middle">2014</text>
<text x="459.9" y="556.6" text-anchor="middle">2016</text>
<text x="479.8" y="548.0" text-anchor="middle">2018</text>
<text x="499.7" y="556.6" text-anchor="middle">2020</text>
<text x="519.7" y="548.0" text-anchor="middle">2022</text>
<text x="539.6" y="556.6" text-anchor="middle">2024</text>
<text x="430.0" y="567.7" text-anchor="middle">Year</text>
<text transform="translate(304.9 466.1) rotate(-90)" text-anchor="middle">Water temperature (°C)</text>
<line x1="320.30" y1="466.72" x2="539.60" y2="474.43" stroke="#ee2c44" stroke-width="0.72" style="mix-blend-mode:multiply"/>
<line x1="320.30" y1="483.83" x2="539.60" y2="461.90" stroke="#3c3cec" stroke-width="0.72" style="mix-blend-mode:multiply"/>
<polyline points="330.27,461.90 340.24,488.89 350.20,409.85 360.17,424.55 370.14,515.16 380.11,498.29 390.08,462.38 400.05,502.15 410.01,493.47 419.98,466.72 429.95,493.96 439.92,446.00 449.89,478.29 459.85,400.21 469.82,495.40 479.79,451.06 489.76,510.34 499.73,465.16 509.70,446.48 519.66,495.16" fill="none" stroke="#ee2c44" stroke-width="0.72" stroke-linejoin="round" style="mix-blend-mode:multiply"/>
<g fill="#f58a96" stroke="#ee2c44" stroke-width="0.5" style="mix-blend-mode:multiply"><rect x="329.22" y="460.85" width="2.1" height="2.1"/><rect x="339.19" y="487.84" width="2.1" height="2.1"/><rect x="349.15" y="408.80" width="2.1" height="2.1"/><rect x="359.12" y="423.50" width="2.1" height="2.1"/><rect x="369.09" y="514.11" width="2.1" height="2.1"/><rect x="379.06" y="497.24" width="2.1" height="2.1"/><rect x="389.03" y="461.33" width="2.1" height="2.1"/><rect x="399.00" y="501.10" width="2.1" height="2.1"/><rect x="408.96" y="492.42" width="2.1" height="2.1"/><rect x="418.93" y="465.67" width="2.1" height="2.1"/><rect x="428.90" y="492.91" width="2.1" height="2.1"/><rect x="438.87" y="444.95" width="2.1" height="2.1"/><rect x="448.84" y="477.24" width="2.1" height="2.1"/><rect x="458.80" y="399.16" width="2.1" height="2.1"/><rect x="468.77" y="494.35" width="2.1" height="2.1"/><rect x="478.74" y="450.01" width="2.1" height="2.1"/><rect x="488.71" y="509.29" width="2.1" height="2.1"/><rect x="498.68" y="464.11" width="2.1" height="2.1"/><rect x="508.65" y="445.43" width="2.1" height="2.1"/><rect x="518.61" y="494.11" width="2.1" height="2.1"/></g>
<polyline points="330.27,484.07 340.24,501.67 350.20,453.23 360.17,450.82 370.14,506.73 380.11,476.84 390.08,457.56 400.05,515.89 410.01,464.55 419.98,491.06 429.95,495.64 439.92,471.78 449.89,460.70 459.85,426.72 469.82,469.37 479.79,463.35 489.76,476.60 499.73,452.02 509.70,460.22 519.66,486.24" fill="none" stroke="#3c3cec" stroke-width="0.72" stroke-linejoin="round" style="mix-blend-mode:multiply"/>
<g fill="#8a8af0" stroke="#3c3cec" stroke-width="0.5" style="mix-blend-mode:multiply"><circle cx="330.27" cy="484.07" r="1.25"/><circle cx="340.24" cy="501.67" r="1.25"/><circle cx="350.20" cy="453.23" r="1.25"/><circle cx="360.17" cy="450.82" r="1.25"/><circle cx="370.14" cy="506.73" r="1.25"/><circle cx="380.11" cy="476.84" r="1.25"/><circle cx="390.08" cy="457.56" r="1.25"/><circle cx="400.05" cy="515.89" r="1.25"/><circle cx="410.01" cy="464.55" r="1.25"/><circle cx="419.98" cy="491.06" r="1.25"/><circle cx="429.95" cy="495.64" r="1.25"/><circle cx="439.92" cy="471.78" r="1.25"/><circle cx="449.89" cy="460.70" r="1.25"/><circle cx="459.85" cy="426.72" r="1.25"/><circle cx="469.82" cy="469.37" r="1.25"/><circle cx="479.79" cy="463.35" r="1.25"/><circle cx="489.76" cy="476.60" r="1.25"/><circle cx="499.73" cy="452.02" r="1.25"/><circle cx="509.70" cy="460.22" r="1.25"/><circle cx="519.66" cy="486.24" r="1.25"/></g>
<text x="436.0" y="523.6" font-size="7.6">LST <tspan font-size="5.15" dy="1.6">in-situ</tspan><tspan dy="-1.6"> = -68.9281+0.0415*x</tspan></text>
<text x="436.0" y="533.1" font-size="7.6">LST <tspan font-size="5.15" dy="1.6">MODIS</tspan><tspan dy="-1.6"> = 43.9945-0.0145*x</tspan></text>
</g>
<g>
<text x="135.7" y="580.8" text-anchor="middle">Łebsko - October</text>
<rect x="25.90" y="585.39" width="219.50" height="143.80" fill="none" stroke="#8a8a8a" stroke-width="1.0"/>
<path d="M25.90 729.19v-1.1M25.90 585.39v1.1M45.85 729.19v-1.1M45.85 585.39v1.1M65.81 729.19v-1.1M65.81 585.39v1.1M85.76 729.19v-1.1M85.76 585.39v1.1M105.72 729.19v-1.1M105.72 585.39v1.1M125.67 729.19v-1.1M125.67 585.39v1.1M145.63 729.19v-1.1M145.63 585.39v1.1M165.58 729.19v-1.1M165.58 585.39v1.1M185.54 729.19v-1.1M185.54 585.39v1.1M205.49 729.19v-1.1M205.49 585.39v1.1M225.45 729.19v-1.1M225.45 585.39v1.1M245.40 729.19v-1.1M245.40 585.39v1.1M35.88 729.19v-0.6M35.88 585.39v0.6M55.83 729.19v-0.6M55.83 585.39v0.6M75.79 729.19v-0.6M75.79 585.39v0.6M95.74 729.19v-0.6M95.74 585.39v0.6M115.70 729.19v-0.6M115.70 585.39v0.6M135.65 729.19v-0.6M135.65 585.39v0.6M155.60 729.19v-0.6M155.60 585.39v0.6M175.56 729.19v-0.6M175.56 585.39v0.6M195.51 729.19v-0.6M195.51 585.39v0.6M215.47 729.19v-0.6M215.47 585.39v0.6M235.42 729.19v-0.6M235.42 585.39v0.6M25.90 729.19h1.1M245.40 729.19h-1.1M25.90 708.65h1.1M245.40 708.65h-1.1M25.90 688.10h1.1M245.40 688.10h-1.1M25.90 667.56h1.1M245.40 667.56h-1.1M25.90 647.02h1.1M245.40 647.02h-1.1M25.90 626.48h1.1M245.40 626.48h-1.1M25.90 605.93h1.1M245.40 605.93h-1.1M25.90 585.39h1.1M245.40 585.39h-1.1M25.90 718.92h0.6M245.40 718.92h-0.6M25.90 698.38h0.6M245.40 698.38h-0.6M25.90 677.83h0.6M245.40 677.83h-0.6M25.90 657.29h0.6M245.40 657.29h-0.6M25.90 636.75h0.6M245.40 636.75h-0.6M25.90 616.20h0.6M245.40 616.20h-0.6M25.90 595.66h0.6M245.40 595.66h-0.6" stroke="#8a8a8a" stroke-width="0.6" fill="none"/>
<text x="22.9" y="732.2" text-anchor="end">6</text>
<text x="22.9" y="711.6" text-anchor="end">7</text>
<text x="22.9" y="690.9" text-anchor="end">8</text>
<text x="22.9" y="670.3" text-anchor="end">9</text>
<text x="22.9" y="649.6" text-anchor="end">10</text>
<text x="22.9" y="629.0" text-anchor="end">11</text>
<text x="22.9" y="608.3" text-anchor="end">12</text>
<text x="22.9" y="587.6" text-anchor="end">13</text>
<text x="25.9" y="739.2" text-anchor="middle">2002</text>
<text x="45.9" y="747.8" text-anchor="middle">2004</text>
<text x="65.8" y="739.2" text-anchor="middle">2006</text>
<text x="85.8" y="747.8" text-anchor="middle">2008</text>
<text x="105.7" y="739.2" text-anchor="middle">2010</text>
<text x="125.7" y="747.8" text-anchor="middle">2012</text>
<text x="145.6" y="739.2" text-anchor="middle">2014</text>
<text x="165.6" y="747.8" text-anchor="middle">2016</text>
<text x="185.5" y="739.2" text-anchor="middle">2018</text>
<text x="205.5" y="747.8" text-anchor="middle">2020</text>
<text x="225.4" y="739.2" text-anchor="middle">2022</text>
<text x="245.4" y="747.8" text-anchor="middle">2024</text>
<text x="135.7" y="758.9" text-anchor="middle">Year</text>
<text transform="translate(10.5 657.3) rotate(-90)" text-anchor="middle">Water temperature (°C)</text>
<line x1="25.90" y1="676.72" x2="245.40" y2="648.83" stroke="#ee2c44" stroke-width="0.72" style="mix-blend-mode:multiply"/>
<line x1="25.90" y1="668.25" x2="245.40" y2="630.86" stroke="#3c3cec" stroke-width="0.72" style="mix-blend-mode:multiply"/>
<polyline points="35.88,701.82 45.85,654.41 55.83,638.71 65.81,602.77 75.79,685.39 85.76,677.96 95.74,721.13 105.72,702.13 115.70,682.09 125.67,674.45 135.65,649.66 145.63,627.76 155.60,665.36 165.58,700.27 175.56,644.18 185.54,637.06 195.51,656.27 205.49,652.76 215.47,657.09 225.45,635.82" fill="none" stroke="#ee2c44" stroke-width="0.72" stroke-linejoin="round" style="mix-blend-mode:multiply"/>
<g fill="#f58a96" stroke="#ee2c44" stroke-width="0.5" style="mix-blend-mode:multiply"><rect x="34.83" y="700.77" width="2.1" height="2.1"/><rect x="44.80" y="653.36" width="2.1" height="2.1"/><rect x="54.78" y="637.66" width="2.1" height="2.1"/><rect x="64.76" y="601.72" width="2.1" height="2.1"/><rect x="74.74" y="684.34" width="2.1" height="2.1"/><rect x="84.71" y="676.91" width="2.1" height="2.1"/><rect x="94.69" y="720.08" width="2.1" height="2.1"/><rect x="104.67" y="701.08" width="2.1" height="2.1"/><rect x="114.65" y="681.04" width="2.1" height="2.1"/><rect x="124.62" y="673.40" width="2.1" height="2.1"/><rect x="134.60" y="648.61" width="2.1" height="2.1"/><rect x="144.58" y="626.71" width="2.1" height="2.1"/><rect x="154.55" y="664.31" width="2.1" height="2.1"/><rect x="164.53" y="699.22" width="2.1" height="2.1"/><rect x="174.51" y="643.13" width="2.1" height="2.1"/><rect x="184.49" y="636.01" width="2.1" height="2.1"/><rect x="194.46" y="655.22" width="2.1" height="2.1"/><rect x="204.44" y="651.71" width="2.1" height="2.1"/><rect x="214.42" y="656.04" width="2.1" height="2.1"/><rect x="224.40" y="634.77" width="2.1" height="2.1"/></g>
<polyline points="35.88,694.90 45.85,649.04 55.83,649.04 65.81,600.49 75.79,655.44 85.76,651.52 95.74,690.56 105.72,708.53 115.70,651.72 125.67,659.37 135.65,640.77 145.63,619.08 155.60,673.00 165.58,668.04 175.56,629.83 185.54,649.45 195.51,626.52 205.49,623.22 215.47,643.05 225.45,620.12" fill="none" stroke="#3c3cec" stroke-width="0.72" stroke-linejoin="round" style="mix-blend-mode:multiply"/>
<g fill="#8a8af0" stroke="#3c3cec" stroke-width="0.5" style="mix-blend-mode:multiply"><circle cx="35.88" cy="694.90" r="1.25"/><circle cx="45.85" cy="649.04" r="1.25"/><circle cx="55.83" cy="649.04" r="1.25"/><circle cx="65.81" cy="600.49" r="1.25"/><circle cx="75.79" cy="655.44" r="1.25"/><circle cx="85.76" cy="651.52" r="1.25"/><circle cx="95.74" cy="690.56" r="1.25"/><circle cx="105.72" cy="708.53" r="1.25"/><circle cx="115.70" cy="651.72" r="1.25"/><circle cx="125.67" cy="659.37" r="1.25"/><circle cx="135.65" cy="640.77" r="1.25"/><circle cx="145.63" cy="619.08" r="1.25"/><circle cx="155.60" cy="673.00" r="1.25"/><circle cx="165.58" cy="668.04" r="1.25"/><circle cx="175.56" cy="629.83" r="1.25"/><circle cx="185.54" cy="649.45" r="1.25"/><circle cx="195.51" cy="626.52" r="1.25"/><circle cx="205.49" cy="623.22" r="1.25"/><circle cx="215.47" cy="643.05" r="1.25"/><circle cx="225.45" cy="620.12" r="1.25"/></g>
<text x="135.8" y="714.6" font-size="7.6">LST <tspan font-size="5.15" dy="1.6">in-situ</tspan><tspan dy="-1.6"> = -156.4283+0.0826*x</tspan></text>
<text x="135.8" y="724.1" font-size="7.6">LST <tspan font-size="5.15" dy="1.6">MODIS</tspan><tspan dy="-1.6"> = -112.7697+0.0606*x</tspan></text>
</g>
<g>
<text x="430.0" y="580.8" text-anchor="middle">Gardno - October</text>
<rect x="320.30" y="585.39" width="219.30" height="143.80" fill="none" stroke="#8a8a8a" stroke-width="1.0"/>
<path d="M320.30 729.19v-1.1M320.30 585.39v1.1M340.24 729.19v-1.1M340.24 585.39v1.1M360.17 729.19v-1.1M360.17 585.39v1.1M380.11 729.19v-1.1M380.11 585.39v1.1M400.05 729.19v-1.1M400.05 585.39v1.1M419.98 729.19v-1.1M419.98 585.39v1.1M439.92 729.19v-1.1M439.92 585.39v1.1M459.85 729.19v-1.1M459.85 585.39v1.1M479.79 729.19v-1.1M479.79 585.39v1.1M499.73 729.19v-1.1M499.73 585.39v1.1M519.66 729.19v-1.1M519.66 585.39v1.1M539.60 729.19v-1.1M539.60 585.39v1.1M330.27 729.19v-0.6M330.27 585.39v0.6M350.20 729.19v-0.6M350.20 585.39v0.6M370.14 729.19v-0.6M370.14 585.39v0.6M390.08 729.19v-0.6M390.08 585.39v0.6M410.01 729.19v-0.6M410.01 585.39v0.6M429.95 729.19v-0.6M429.95 585.39v0.6M449.89 729.19v-0.6M449.89 585.39v0.6M469.82 729.19v-0.6M469.82 585.39v0.6M489.76 729.19v-0.6M489.76 585.39v0.6M509.70 729.19v-0.6M509.70 585.39v0.6M529.63 729.19v-0.6M529.63 585.39v0.6M320.30 729.19h1.1M539.60 729.19h-1.1M320.30 708.65h1.1M539.60 708.65h-1.1M320.30 688.10h1.1M539.60 688.10h-1.1M320.30 667.56h1.1M539.60 667.56h-1.1M320.30 647.02h1.1M539.60 647.02h-1.1M320.30 626.48h1.1M539.60 626.48h-1.1M320.30 605.93h1.1M539.60 605.93h-1.1M320.30 585.39h1.1M539.60 585.39h-1.1M320.30 718.92h0.6M539.60 718.92h-0.6M320.30 698.38h0.6M539.60 698.38h-0.6M320.30 677.83h0.6M539.60 677.83h-0.6M320.30 657.29h0.6M539.60 657.29h-0.6M320.30 636.75h0.6M539.60 636.75h-0.6M320.30 616.20h0.6M539.60 616.20h-0.6M320.30 595.66h0.6M539.60 595.66h-0.6" stroke="#8a8a8a" stroke-width="0.6" fill="none"/>
<text x="317.3" y="732.2" text-anchor="end">6</text>
<text x="317.3" y="711.6" text-anchor="end">7</text>
<text x="317.3" y="690.9" text-anchor="end">8</text>
<text x="317.3" y="670.3" text-anchor="end">9</text>
<text x="317.3" y="649.6" text-anchor="end">10</text>
<text x="317.3" y="629.0" text-anchor="end">11</text>
<text x="317.3" y="608.3" text-anchor="end">12</text>
<text x="317.3" y="587.6" text-anchor="end">13</text>
<text x="320.3" y="739.2" text-anchor="middle">2002</text>
<text x="340.2" y="747.8" text-anchor="middle">2004</text>
<text x="360.2" y="739.2" text-anchor="middle">2006</text>
<text x="380.1" y="747.8" text-anchor="middle">2008</text>
<text x="400.0" y="739.2" text-anchor="middle">2010</text>
<text x="420.0" y="747.8" text-anchor="middle">2012</text>
<text x="439.9" y="739.2" text-anchor="middle">2014</text>
<text x="459.9" y="747.8" text-anchor="middle">2016</text>
<text x="479.8" y="739.2" text-anchor="middle">2018</text>
<text x="499.7" y="747.8" text-anchor="middle">2020</text>
<text x="519.7" y="739.2" text-anchor="middle">2022</text>
<text x="539.6" y="747.8" text-anchor="middle">2024</text>
<text x="430.0" y="758.9" text-anchor="middle">Year</text>
<text transform="translate(304.9 657.3) rotate(-90)" text-anchor="middle">Water temperature (°C)</text>
<line x1="320.30" y1="677.34" x2="539.60" y2="646.76" stroke="#ee2c44" stroke-width="0.72" style="mix-blend-mode:multiply"/>
<line x1="320.30" y1="681.88" x2="539.60" y2="624.66" stroke="#3c3cec" stroke-width="0.72" style="mix-blend-mode:multiply"/>
<polyline points="330.27,715.55 340.24,650.48 350.20,635.20 360.17,606.90 370.14,670.11 380.11,674.03 390.08,715.55 400.05,709.46 410.01,680.02 419.98,665.98 429.95,654.82 439.92,635.82 449.89,676.30 459.85,695.93 469.82,663.60 479.79,618.05 489.76,658.75 499.73,647.38 509.70,654.41 519.66,627.76" fill="none" stroke="#ee2c44" stroke-width="0.72" stroke-linejoin="round" style="mix-blend-mode:multiply"/>
<g fill="#f58a96" stroke="#ee2c44" stroke-width="0.5" style="mix-blend-mode:multiply"><rect x="329.22" y="714.50" width="2.1" height="2.1"/><rect x="339.19" y="649.43" width="2.1" height="2.1"/><rect x="349.15" y="634.15" width="2.1" height="2.1"/><rect x="359.12" y="605.85" width="2.1" height="2.1"/><rect x="369.09" y="669.06" width="2.1" height="2.1"/><rect x="379.06" y="672.98" width="2.1" height="2.1"/><rect x="389.03" y="714.50" width="2.1" height="2.1"/><rect x="399.00" y="708.41" width="2.1" height="2.1"/><rect x="408.96" y="678.97" width="2.1" height="2.1"/><rect x="418.93" y="664.93" width="2.1" height="2.1"/><rect x="428.90" y="653.77" width="2.1" height="2.1"/><rect x="438.87" y="634.77" width="2.1" height="2.1"/><rect x="448.84" y="675.25" width="2.1" height="2.1"/><rect x="458.80" y="694.88" width="2.1" height="2.1"/><rect x="468.77" y="662.55" width="2.1" height="2.1"/><rect x="478.74" y="617.00" width="2.1" height="2.1"/><rect x="488.71" y="657.70" width="2.1" height="2.1"/><rect x="498.68" y="646.33" width="2.1" height="2.1"/><rect x="508.65" y="653.36" width="2.1" height="2.1"/><rect x="518.61" y="626.71" width="2.1" height="2.1"/></g>
<polyline points="330.27,706.26 340.24,683.33 350.20,653.38 360.17,617.23 370.14,658.33 380.11,652.34 390.08,689.32 400.05,711.22 410.01,659.16 419.98,667.63 429.95,645.32 439.92,619.08 449.89,675.68 459.85,668.04 469.82,638.71 479.79,641.81 489.76,631.48 499.73,630.03 509.70,635.40 519.66,615.16" fill="none" stroke="#3c3cec" stroke-width="0.72" stroke-linejoin="round" style="mix-blend-mode:multiply"/>
<g fill="#8a8af0" stroke="#3c3cec" stroke-width="0.5" style="mix-blend-mode:multiply"><circle cx="330.27" cy="706.26" r="1.25"/><circle cx="340.24" cy="683.33" r="1.25"/><circle cx="350.20" cy="653.38" r="1.25"/><circle cx="360.17" cy="617.23" r="1.25"/><circle cx="370.14" cy="658.33" r="1.25"/><circle cx="380.11" cy="652.34" r="1.25"/><circle cx="390.08" cy="689.32" r="1.25"/><circle cx="400.05" cy="711.22" r="1.25"/><circle cx="410.01" cy="659.16" r="1.25"/><circle cx="419.98" cy="667.63" r="1.25"/><circle cx="429.95" cy="645.32" r="1.25"/><circle cx="439.92" cy="619.08" r="1.25"/><circle cx="449.89" cy="675.68" r="1.25"/><circle cx="459.85" cy="668.04" r="1.25"/><circle cx="469.82" cy="638.71" r="1.25"/><circle cx="479.79" cy="641.81" r="1.25"/><circle cx="489.76" cy="631.48" r="1.25"/><circle cx="499.73" cy="630.03" r="1.25"/><circle cx="509.70" cy="635.40" r="1.25"/><circle cx="519.66" cy="615.16" r="1.25"/></g>
<text x="428.6" y="714.6" font-size="7.6">LST <tspan font-size="5.15" dy="1.6">in-situ</tspan><tspan dy="-1.6"> = -244.9079+0.1265*x</tspan></text>
<text x="428.6" y="724.1" font-size="7.6">LST <tspan font-size="5.15" dy="1.6">MODIS</tspan><tspan dy="-1.6"> = -128.4253+0.0684*x</tspan></text>
</g>
<g>
<text x="135.7" y="772.0" text-anchor="middle">Łebsko - April - October</text>
<rect x="25.90" y="776.62" width="219.50" height="143.80" fill="none" stroke="#8a8a8a" stroke-width="1.0"/>
<path d="M25.90 920.42v-1.1M25.90 776.62v1.1M45.85 920.42v-1.1M45.85 776.62v1.1M65.81 920.42v-1.1M65.81 776.62v1.1M85.76 920.42v-1.1M85.76 776.62v1.1M105.72 920.42v-1.1M105.72 776.62v1.1M125.67 920.42v-1.1M125.67 776.62v1.1M145.63 920.42v-1.1M145.63 776.62v1.1M165.58 920.42v-1.1M165.58 776.62v1.1M185.54 920.42v-1.1M185.54 776.62v1.1M205.49 920.42v-1.1M205.49 776.62v1.1M225.45 920.42v-1.1M225.45 776.62v1.1M245.40 920.42v-1.1M245.40 776.62v1.1M35.88 920.42v-0.6M35.88 776.62v0.6M55.83 920.42v-0.6M55.83 776.62v0.6M75.79 920.42v-0.6M75.79 776.62v0.6M95.74 920.42v-0.6M95.74 776.62v0.6M115.70 920.42v-0.6M115.70 776.62v0.6M135.65 920.42v-0.6M135.65 776.62v0.6M155.60 920.42v-0.6M155.60 776.62v0.6M175.56 920.42v-0.6M175.56 776.62v0.6M195.51 920.42v-0.6M195.51 776.62v0.6M215.47 920.42v-0.6M215.47 776.62v0.6M235.42 920.42v-0.6M235.42 776.62v0.6M25.90 920.42h1.1M245.40 920.42h-1.1M25.90 884.47h1.1M245.40 884.47h-1.1M25.90 848.52h1.1M245.40 848.52h-1.1M25.90 812.57h1.1M245.40 812.57h-1.1M25.90 776.62h1.1M245.40 776.62h-1.1M25.90 902.45h0.6M245.40 902.45h-0.6M25.90 866.50h0.6M245.40 866.50h-0.6M25.90 830.54h0.6M245.40 830.54h-0.6M25.90 794.60h0.6M245.40 794.60h-0.6" stroke="#8a8a8a" stroke-width="0.6" fill="none"/>
<text x="22.9" y="923.5" text-anchor="end">13</text>
<text x="22.9" y="887.3" text-anchor="end">14</text>
<text x="22.9" y="851.1" text-anchor="end">15</text>
<text x="22.9" y="815.0" text-anchor="end">16</text>
<text x="22.9" y="778.9" text-anchor="end">17</text>
<text x="25.9" y="930.5" text-anchor="middle">2002</text>
<text x="45.9" y="939.1" text-anchor="middle">2004</text>
<text x="65.8" y="930.5" text-anchor="middle">2006</text>
<text x="85.8" y="939.1" text-anchor="middle">2008</text>
<text x="105.7" y="930.5" text-anchor="middle">2010</text>
<text x="125.7" y="939.1" text-anchor="middle">2012</text>
<text x="145.6" y="930.5" text-anchor="middle">2014</text>
<text x="165.6" y="939.1" text-anchor="middle">2016</text>
<text x="185.5" y="930.5" text-anchor="middle">2018</text>
<text x="205.5" y="939.1" text-anchor="middle">2020</text>
<text x="225.4" y="930.5" text-anchor="middle">2022</text>
<text x="245.4" y="939.1" text-anchor="middle">2024</text>
<text x="135.7" y="950.1" text-anchor="middle">Year</text>
<text transform="translate(10.5 848.5) rotate(-90)" text-anchor="middle">Water temperature (°C)</text>
<line x1="25.90" y1="866.94" x2="245.40" y2="838.74" stroke="#ee2c44" stroke-width="0.72" style="mix-blend-mode:multiply"/>
<line x1="25.90" y1="867.66" x2="245.40" y2="836.21" stroke="#3c3cec" stroke-width="0.72" style="mix-blend-mode:multiply"/>
<polyline points="35.88,856.81 45.85,886.46 55.83,864.04 65.81,811.63 75.79,879.23 85.76,844.89 95.74,872.72 105.72,861.15 115.70,886.28 125.67,877.06 135.65,849.22 145.63,821.39 155.60,867.66 165.58,830.43 175.56,877.06 185.54,798.25 195.51,827.89 205.49,864.41 215.47,854.28 225.45,843.80" fill="none" stroke="#ee2c44" stroke-width="0.72" stroke-linejoin="round" style="mix-blend-mode:multiply"/>
<g fill="#f58a96" stroke="#ee2c44" stroke-width="0.5" style="mix-blend-mode:multiply"><rect x="34.83" y="855.76" width="2.1" height="2.1"/><rect x="44.80" y="885.41" width="2.1" height="2.1"/><rect x="54.78" y="862.99" width="2.1" height="2.1"/><rect x="64.76" y="810.58" width="2.1" height="2.1"/><rect x="74.74" y="878.18" width="2.1" height="2.1"/><rect x="84.71" y="843.84" width="2.1" height="2.1"/><rect x="94.69" y="871.67" width="2.1" height="2.1"/><rect x="104.67" y="860.10" width="2.1" height="2.1"/><rect x="114.65" y="885.23" width="2.1" height="2.1"/><rect x="124.62" y="876.01" width="2.1" height="2.1"/><rect x="134.60" y="848.17" width="2.1" height="2.1"/><rect x="144.58" y="820.34" width="2.1" height="2.1"/><rect x="154.55" y="866.61" width="2.1" height="2.1"/><rect x="164.53" y="829.38" width="2.1" height="2.1"/><rect x="174.51" y="876.01" width="2.1" height="2.1"/><rect x="184.49" y="797.20" width="2.1" height="2.1"/><rect x="194.46" y="826.84" width="2.1" height="2.1"/><rect x="204.44" y="863.36" width="2.1" height="2.1"/><rect x="214.42" y="853.23" width="2.1" height="2.1"/><rect x="224.40" y="842.75" width="2.1" height="2.1"/></g>
<polyline points="35.88,864.77 45.85,873.81 55.83,873.44 65.81,825.00 75.79,858.98 85.76,862.24 95.74,861.88 105.72,875.25 115.70,842.72 125.67,862.96 135.65,848.14 145.63,835.85 155.60,877.78 165.58,849.22 175.56,872.36 185.54,804.04 195.51,833.68 205.49,846.33 215.47,843.08 225.45,841.63" fill="none" stroke="#3c3cec" stroke-width="0.72" stroke-linejoin="round" style="mix-blend-mode:multiply"/>
<g fill="#8a8af0" stroke="#3c3cec" stroke-width="0.5" style="mix-blend-mode:multiply"><circle cx="35.88" cy="864.77" r="1.25"/><circle cx="45.85" cy="873.81" r="1.25"/><circle cx="55.83" cy="873.44" r="1.25"/><circle cx="65.81" cy="825.00" r="1.25"/><circle cx="75.79" cy="858.98" r="1.25"/><circle cx="85.76" cy="862.24" r="1.25"/><circle cx="95.74" cy="861.88" r="1.25"/><circle cx="105.72" cy="875.25" r="1.25"/><circle cx="115.70" cy="842.72" r="1.25"/><circle cx="125.67" cy="862.96" r="1.25"/><circle cx="135.65" cy="848.14" r="1.25"/><circle cx="145.63" cy="835.85" r="1.25"/><circle cx="155.60" cy="877.78" r="1.25"/><circle cx="165.58" cy="849.22" r="1.25"/><circle cx="175.56" cy="872.36" r="1.25"/><circle cx="185.54" cy="804.04" r="1.25"/><circle cx="195.51" cy="833.68" r="1.25"/><circle cx="205.49" cy="846.33" r="1.25"/><circle cx="215.47" cy="843.08" r="1.25"/><circle cx="225.45" cy="841.63" r="1.25"/></g>
<text x="139.5" y="905.1" font-size="7.6">LST <tspan font-size="5.15" dy="1.6">in-situ</tspan><tspan dy="-1.6"> = -64.1025+0.0392*x</tspan></text>
<text x="139.5" y="914.6" font-size="7.6">LST <tspan font-size="5.15" dy="1.6">MODIS</tspan><tspan dy="-1.6"> = -55.9707+0.0352*x</tspan></text>
</g>
<g>
<text x="430.0" y="772.0" text-anchor="middle">Gardno - April - October</text>
<rect x="320.30" y="776.62" width="219.30" height="143.80" fill="none" stroke="#8a8a8a" stroke-width="1.0"/>
<path d="M320.30 920.42v-1.1M320.30 776.62v1.1M340.24 920.42v-1.1M340.24 776.62v1.1M360.17 920.42v-1.1M360.17 776.62v1.1M380.11 920.42v-1.1M380.11 776.62v1.1M400.05 920.42v-1.1M400.05 776.62v1.1M419.98 920.42v-1.1M419.98 776.62v1.1M439.92 920.42v-1.1M439.92 776.62v1.1M459.85 920.42v-1.1M459.85 776.62v1.1M479.79 920.42v-1.1M479.79 776.62v1.1M499.73 920.42v-1.1M499.73 776.62v1.1M519.66 920.42v-1.1M519.66 776.62v1.1M539.60 920.42v-1.1M539.60 776.62v1.1M330.27 920.42v-0.6M330.27 776.62v0.6M350.20 920.42v-0.6M350.20 776.62v0.6M370.14 920.42v-0.6M370.14 776.62v0.6M390.08 920.42v-0.6M390.08 776.62v0.6M410.01 920.42v-0.6M410.01 776.62v0.6M429.95 920.42v-0.6M429.95 776.62v0.6M449.89 920.42v-0.6M449.89 776.62v0.6M469.82 920.42v-0.6M469.82 776.62v0.6M489.76 920.42v-0.6M489.76 776.62v0.6M509.70 920.42v-0.6M509.70 776.62v0.6M529.63 920.42v-0.6M529.63 776.62v0.6M320.30 920.42h1.1M539.60 920.42h-1.1M320.30 884.47h1.1M539.60 884.47h-1.1M320.30 848.52h1.1M539.60 848.52h-1.1M320.30 812.57h1.1M539.60 812.57h-1.1M320.30 776.62h1.1M539.60 776.62h-1.1M320.30 902.45h0.6M539.60 902.45h-0.6M320.30 866.50h0.6M539.60 866.50h-0.6M320.30 830.54h0.6M539.60 830.54h-0.6M320.30 794.60h0.6M539.60 794.60h-0.6" stroke="#8a8a8a" stroke-width="0.6" fill="none"/>
<text x="317.3" y="923.5" text-anchor="end">13</text>
<text x="317.3" y="887.3" text-anchor="end">14</text>
<text x="317.3" y="851.1" text-anchor="end">15</text>
<text x="317.3" y="815.0" text-anchor="end">16</text>
<text x="317.3" y="778.9" text-anchor="end">17</text>
<text x="320.3" y="930.5" text-anchor="middle">2002</text>
<text x="340.2" y="939.1" text-anchor="middle">2004</text>
<text x="360.2" y="930.5" text-anchor="middle">2006</text>
<text x="380.1" y="939.1" text-anchor="middle">2008</text>
<text x="400.0" y="930.5" text-anchor="middle">2010</text>
<text x="420.0" y="939.1" text-anchor="middle">2012</text>
<text x="439.9" y="930.5" text-anchor="middle">2014</text>
<text x="459.9" y="939.1" text-anchor="middle">2016</text>
<text x="479.8" y="930.5" text-anchor="middle">2018</text>
<text x="499.7" y="939.1" text-anchor="middle">2020</text>
<text x="519.7" y="930.5" text-anchor="middle">2022</text>
<text x="539.6" y="939.1" text-anchor="middle">2024</text>
<text x="430.0" y="950.1" text-anchor="middle">Year</text>
<text transform="translate(304.9 848.5) rotate(-90)" text-anchor="middle">Water temperature (°C)</text>
<line x1="320.30" y1="861.51" x2="539.60" y2="824.64" stroke="#ee2c44" stroke-width="0.72" style="mix-blend-mode:multiply"/>
<line x1="320.30" y1="883.93" x2="539.60" y2="845.61" stroke="#3c3cec" stroke-width="0.72" style="mix-blend-mode:multiply"/>
<polyline points="330.27,854.65 340.24,876.34 350.20,855.37 360.17,801.14 370.14,859.71 380.11,826.09 390.08,852.48 400.05,883.93 410.01,871.64 419.98,868.74 429.95,850.85 439.92,816.33 449.89,858.62 459.85,818.50 469.82,878.50 479.79,789.58 489.76,817.77 499.73,840.37 509.70,822.11 519.66,827.89" fill="none" stroke="#ee2c44" stroke-width="0.72" stroke-linejoin="round" style="mix-blend-mode:multiply"/>
<g fill="#f58a96" stroke="#ee2c44" stroke-width="0.5" style="mix-blend-mode:multiply"><rect x="329.22" y="853.60" width="2.1" height="2.1"/><rect x="339.19" y="875.29" width="2.1" height="2.1"/><rect x="349.15" y="854.32" width="2.1" height="2.1"/><rect x="359.12" y="800.09" width="2.1" height="2.1"/><rect x="369.09" y="858.66" width="2.1" height="2.1"/><rect x="379.06" y="825.04" width="2.1" height="2.1"/><rect x="389.03" y="851.43" width="2.1" height="2.1"/><rect x="399.00" y="882.88" width="2.1" height="2.1"/><rect x="408.96" y="870.59" width="2.1" height="2.1"/><rect x="418.93" y="867.69" width="2.1" height="2.1"/><rect x="428.90" y="849.80" width="2.1" height="2.1"/><rect x="438.87" y="815.28" width="2.1" height="2.1"/><rect x="448.84" y="857.57" width="2.1" height="2.1"/><rect x="458.80" y="817.45" width="2.1" height="2.1"/><rect x="468.77" y="877.45" width="2.1" height="2.1"/><rect x="478.74" y="788.53" width="2.1" height="2.1"/><rect x="488.71" y="816.72" width="2.1" height="2.1"/><rect x="498.68" y="839.32" width="2.1" height="2.1"/><rect x="508.65" y="821.06" width="2.1" height="2.1"/><rect x="518.61" y="826.84" width="2.1" height="2.1"/></g>
<polyline points="330.27,877.78 340.24,904.53 350.20,877.78 360.17,845.97 370.14,864.41 380.11,859.71 390.08,878.14 400.05,900.56 410.01,856.81 419.98,884.29 429.95,856.81 439.92,850.85 449.89,886.82 459.85,850.85 469.82,877.42 479.79,825.73 489.76,847.60 499.73,855.73 509.70,850.31 519.66,849.77" fill="none" stroke="#3c3cec" stroke-width="0.72" stroke-linejoin="round" style="mix-blend-mode:multiply"/>
<g fill="#8a8af0" stroke="#3c3cec" stroke-width="0.5" style="mix-blend-mode:multiply"><circle cx="330.27" cy="877.78" r="1.25"/><circle cx="340.24" cy="904.53" r="1.25"/><circle cx="350.20" cy="877.78" r="1.25"/><circle cx="360.17" cy="845.97" r="1.25"/><circle cx="370.14" cy="864.41" r="1.25"/><circle cx="380.11" cy="859.71" r="1.25"/><circle cx="390.08" cy="878.14" r="1.25"/><circle cx="400.05" cy="900.56" r="1.25"/><circle cx="410.01" cy="856.81" r="1.25"/><circle cx="419.98" cy="884.29" r="1.25"/><circle cx="429.95" cy="856.81" r="1.25"/><circle cx="439.92" cy="850.85" r="1.25"/><circle cx="449.89" cy="886.82" r="1.25"/><circle cx="459.85" cy="850.85" r="1.25"/><circle cx="469.82" cy="877.42" r="1.25"/><circle cx="479.79" cy="825.73" r="1.25"/><circle cx="489.76" cy="847.60" r="1.25"/><circle cx="499.73" cy="855.73" r="1.25"/><circle cx="509.70" cy="850.31" r="1.25"/><circle cx="519.66" cy="849.77" r="1.25"/></g>
<text x="436.0" y="905.1" font-size="7.6">LST <tspan font-size="5.15" dy="1.6">in-situ</tspan><tspan dy="-1.6"> = -82.9261+0.0484*x</tspan></text>
<text x="436.0" y="914.6" font-size="7.6">LST <tspan font-size="5.15" dy="1.6">MODIS</tspan><tspan dy="-1.6"> = -79.4738+0.047*x</tspan></text>
</g>
</svg>
</body>
</html>
